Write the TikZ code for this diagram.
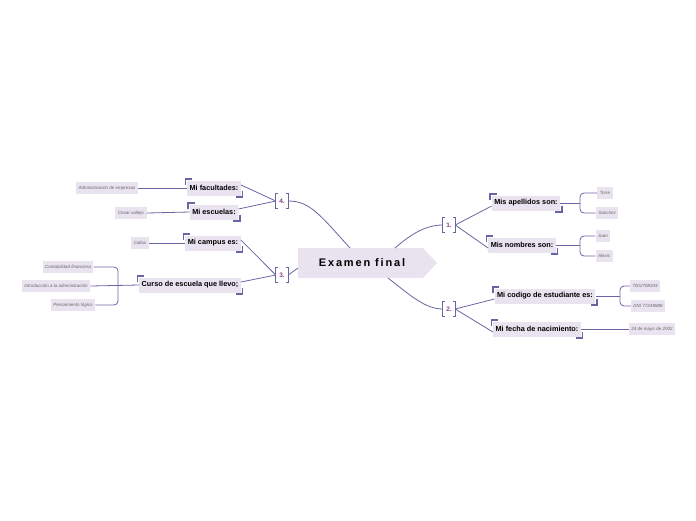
\documentclass[tikz,border=0pt]{standalone}
\usepackage{fontspec}
\setmainfont{Liberation Sans}
\begin{document}
\begin{tikzpicture}[x=1pt,y=-1pt,
  lc/.style={draw=lineC, line width=0.8pt},
  mainbox/.style={fill=boxC, inner sep=2.5pt, font=\fontsize{7.3}{8}\selectfont\bfseries, minimum height=15pt},
  leaf/.style={fill=boxC, inner sep=2.5pt, font=\fontsize{4.5}{5}\selectfont\itshape, text=gray!80!black, minimum height=12pt},
  numb/.style={text=numC, font=\fontsize{6.5}{7}\selectfont\bfseries, inner sep=2pt, minimum width=12pt, minimum height=15pt}]
\definecolor{boxC}{HTML}{E8E3EF}
\definecolor{lineC}{HTML}{6B64A3}
\definecolor{numC}{HTML}{8E3C8E}
\useasboundingbox (0,0) rectangle (696,520);
\newcommand{\deco}[1]{%
  \draw[lineC,line width=1.6pt] ([xshift=-1.5pt,yshift=-5pt]#1.north west) |- ([xshift=5pt,yshift=1.5pt]#1.north west);
  \draw[lineC,line width=1.6pt] ([xshift=1.5pt,yshift=5pt]#1.south east) |- ([xshift=-5pt,yshift=-1.5pt]#1.south east);}
\newcommand{\brk}[1]{%
  \draw[lineC,line width=0.8pt] ([xshift=2pt]#1.north west) -- (#1.north west) -- (#1.south west) -- ++(2pt,0);
  \draw[lineC,line width=0.8pt] ([xshift=-2pt]#1.north east) -- (#1.north east) -- (#1.south east) -- ++(-2pt,0);}
% central
\fill[boxC] (298,248) -- (423,248) -- (437,263) -- (423,278) -- (298,278) -- cycle;
\node[font=\fontsize{11}{13}\selectfont\bfseries] (c) at (362,263) {E\,x\,a\,m\,e\,n \,f\,i\,n\,a\,l};
\coordinate (ctl) at (350,248); \coordinate (cl) at (298,268);
\coordinate (ctr) at (395,248); \coordinate (cbr) at (388,278);
% numbers
\node[numb] (n4) at (282,201) {4.};
\node[numb] (n3) at (282,275) {3.};
\node[numb] (n1) at (449,225) {1.};
\node[numb] (n2) at (449,309) {2.};
\brk{n4}\brk{n3}\brk{n1}\brk{n2}
\draw[lc] (ctl) .. controls (320,215) and (310,201) .. (n4.east);
\draw[lc] (n3.east) -- (cl);
\draw[lc] (ctr) .. controls (410,235) and (425,225) .. (n1.west);
\draw[lc] (cbr) .. controls (410,295) and (425,309) .. (n2.west);
% main nodes
\node[mainbox] (fa) at (214,188) {Mi facultades:};
\node[mainbox] (es) at (214,212) {Mi escuelas:};
\node[mainbox] (ca) at (213,243) {Mi campus es:};
\node[mainbox] (cu) at (190,285) {Curso de escuela que llevo;};
\node[mainbox] (ap) at (526,203) {Mis apellidos son:};
\node[mainbox] (no) at (522,245) {Mis nombres son:};
\node[mainbox] (co) at (545,296) {Mi codigo de estudiante es:};
\node[mainbox] (fe) at (537,329) {Mi fecha de nacimiento:};
\foreach \n in {fa,es,ca,cu,ap,no,co,fe}{\deco{\n}}
\draw[lc] ([yshift=3pt]fa.east) -- (n4.west);
\draw[lc] ([yshift=3pt]es.east) -- (n4.west);
\draw[lc] ([yshift=3pt]ca.east) -- (n3.west);
\draw[lc] ([yshift=3pt]cu.east) -- (n3.west);
\draw[lc] (n1.east) -- ([yshift=-3pt]ap.west);
\draw[lc] (n1.east) -- ([yshift=-3pt]no.west);
\draw[lc] (n2.east) -- ([yshift=-3pt]co.west);
\draw[lc] (n2.east) -- ([yshift=-3pt]fe.west);
% leaves
\node[leaf] (l1) at (107,188) {Administración de empresas};
\node[leaf] (l2) at (131,213) {Cesar vallejo};
\node[leaf] (l3) at (140,243) {Callao};
\node[leaf] (l4) at (68,267) {Contabilidad financiera};
\node[leaf] (l5) at (56,286) {Introducción a la administración};
\node[leaf] (l6) at (73,305) {Pensamiento lógico};
\node[leaf] (r1) at (605,193) {Torre};
\node[leaf] (r2) at (607,213) {Sanchez};
\node[leaf] (r3) at (603,236) {Juan};
\node[leaf] (r4) at (604,256) {Alexis};
\node[leaf] (r5) at (645,286) {7002788333};
\node[leaf] (r6) at (648,306) {DNI 77248888};
\node[leaf] (r7) at (652,329) {24 de mayo de 2002};
\draw[lc] (l1.east) -- (fa.west);
\draw[lc] (l2.east) -- (es.west);
\draw[lc] (l3.east) -- (ca.west);
\draw[lc] (l5.east) -- (cu.west);
\draw[lc,rounded corners=4pt] (l4.east) -| (118,286) |- (l6.east);
\draw[lc] (ap.east) -- (580,203);
\draw[lc,rounded corners=4pt] (r1.west) -| (580,203) |- (r2.west);
\draw[lc] (no.east) -- (580,245);
\draw[lc,rounded corners=4pt] (r3.west) -| (580,245) |- (r4.west);
\draw[lc] (co.east) -- (620,296);
\draw[lc,rounded corners=4pt] (r5.west) -| (620,296) |- (r6.west);
\draw[lc] (fe.east) -- (r7.west);
\end{tikzpicture}
\end{document}
